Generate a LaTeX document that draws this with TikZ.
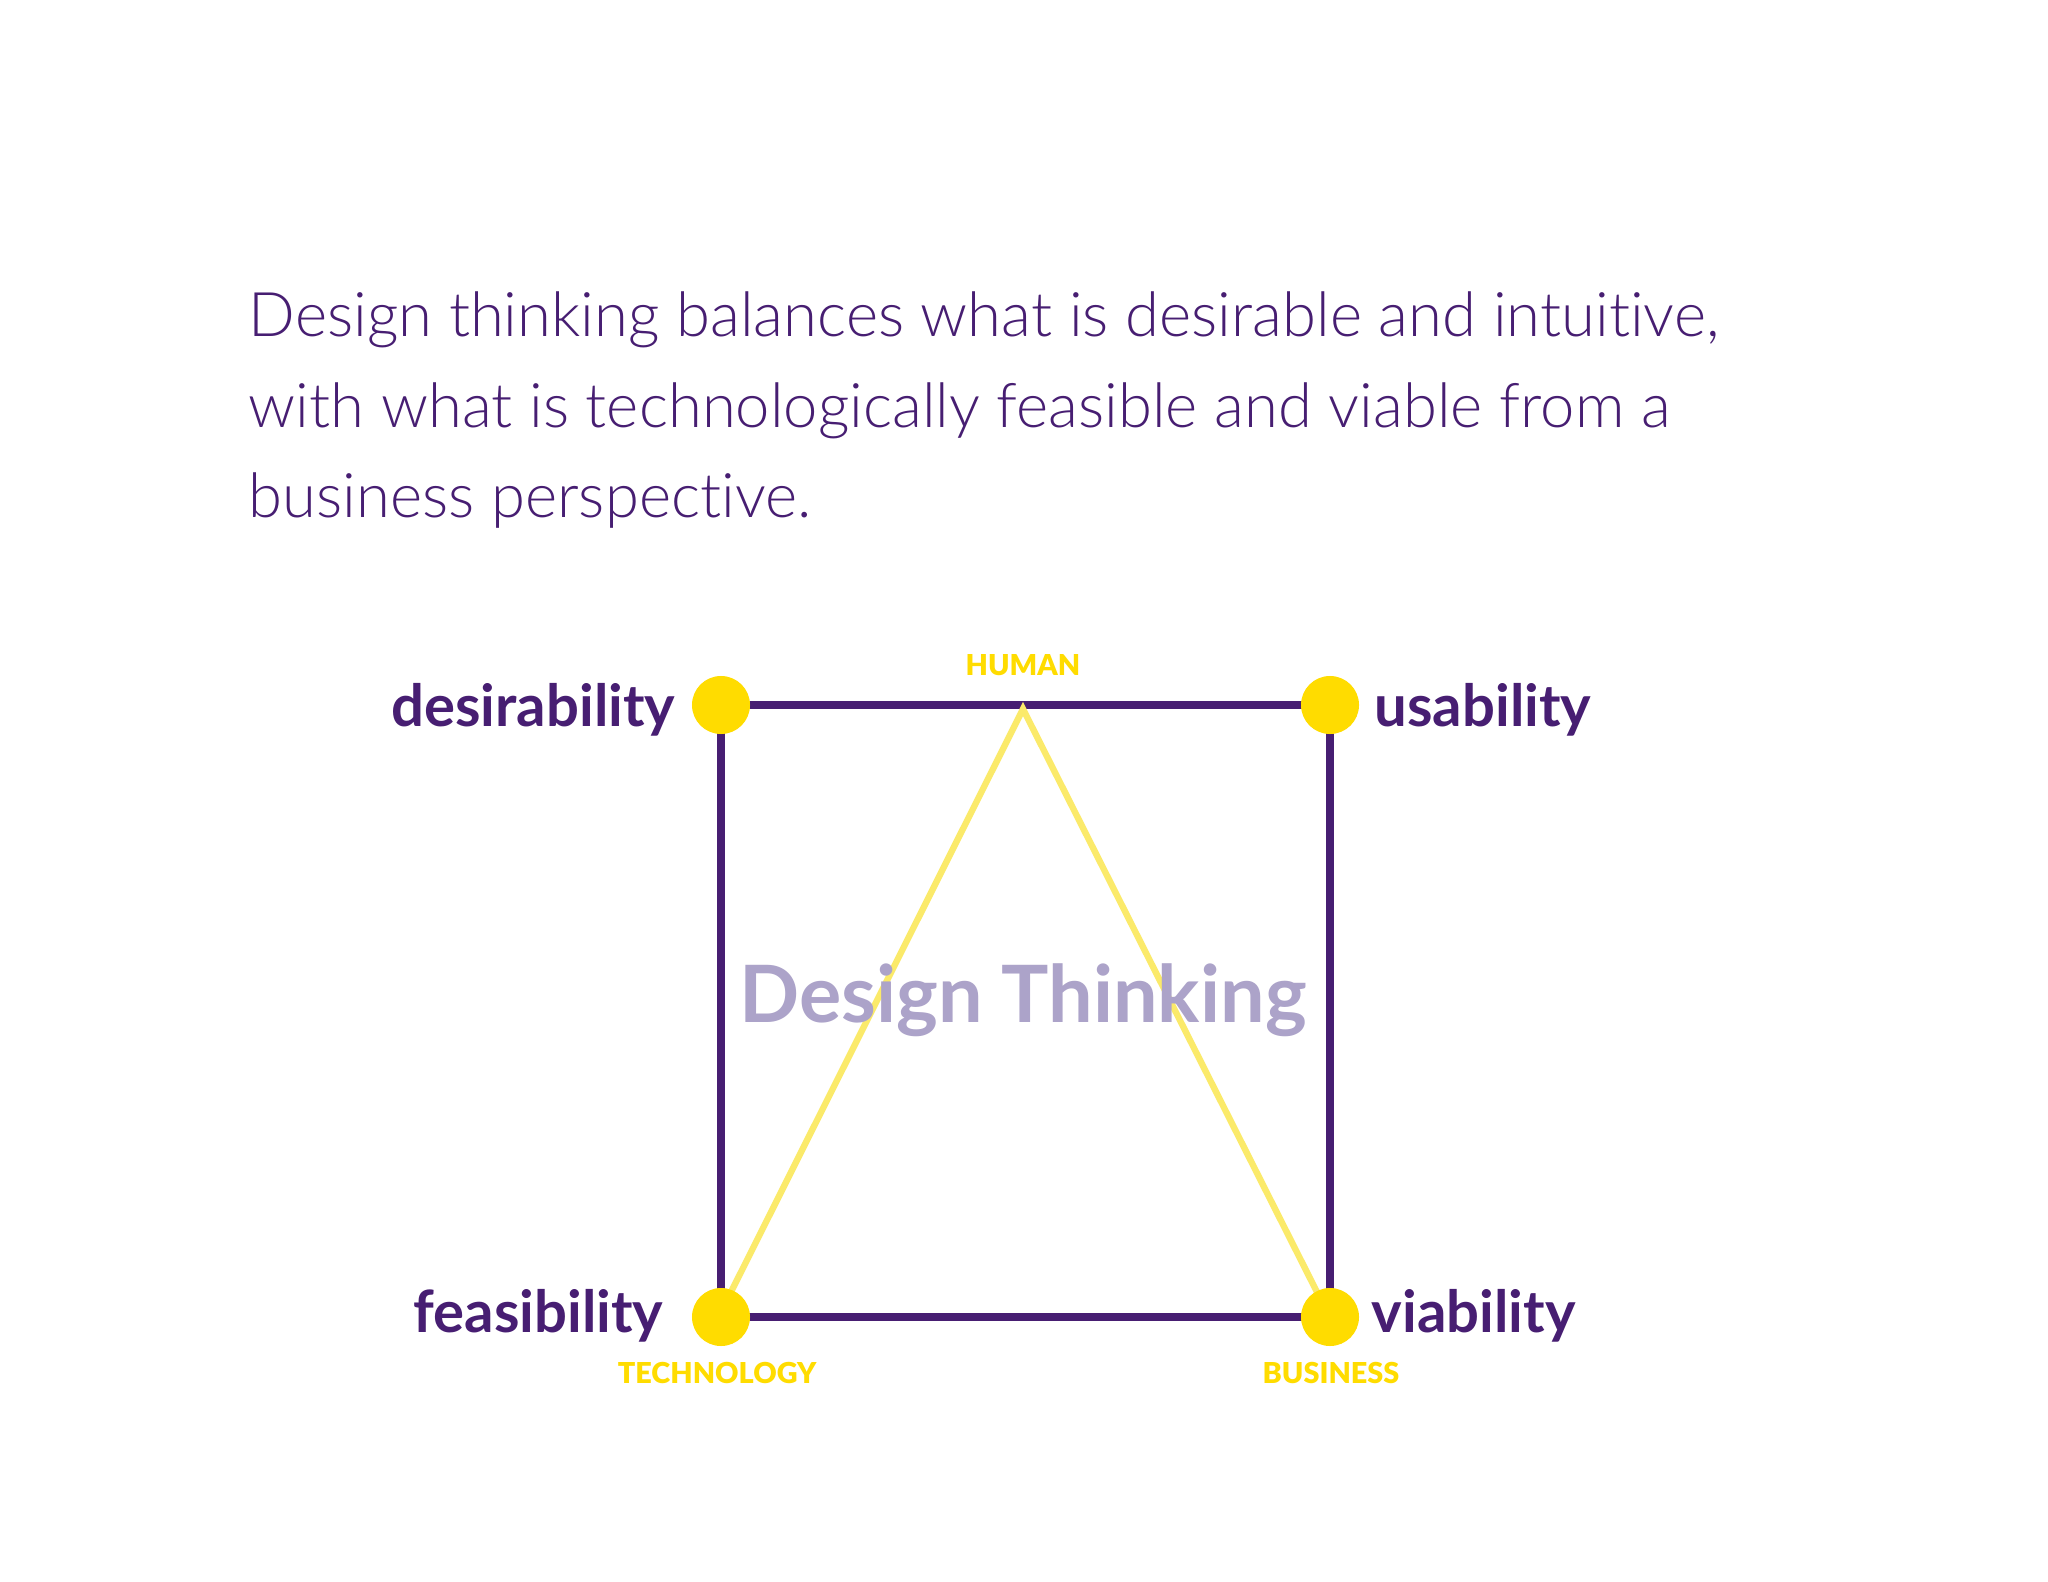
\documentclass[tikz,border=0pt]{standalone}
\usepackage{fontspec}
\setmainfont{Lato}
\newfontfamily\lightfont{Lato Light}[Ligatures=NoCommon]
\newfontfamily\blackfont{Lato Black}
\usepackage{tikz}

\definecolor{dtpurple}{HTML}{471E72}
\definecolor{dtyellow}{HTML}{FFDC00}
\definecolor{dtpale}{HTML}{FBEA6A}
\definecolor{dtlilac}{HTML}{ACA3C9}

\tikzset{
  intro/.style={anchor=base west,inner sep=0pt,text=dtpurple,font=\lightfont\fontsize{17.5}{21}\selectfont},
  corner/.style={circle,fill=dtyellow,minimum size=16.5pt,inner sep=0pt},
  quality/.style={inner sep=0pt,text=dtpurple,font=\bfseries\fontsize{16.5}{19}\selectfont},
  aspect/.style={inner sep=0pt,text=dtyellow,font=\blackfont\fontsize{8.2}{10}\selectfont},
}

\begin{document}
\begin{tikzpicture}[x=0.01cm,y=-0.01cm]
  \fill[white] (0,0) rectangle (2048,1582);
  \useasboundingbox (0,0) rectangle (2048,1582);

  % text on top
  \node[intro] (intro1) at (248,337) {Design thinking balances what is desirable and intuitive,};
  \node[intro] (intro2) at (248,427) {with what is technologically feasible and viable from a};
  \node[intro] (intro3) at (248,517) {business perspective.};

  % corners of the square
  \coordinate (desir) at (721,705);
  \coordinate (usab) at (1330,705);
  \coordinate (feas) at (721,1317);
  \coordinate (viab) at (1330,1317);

  \draw[dtpurple,line width=2.1pt] (desir) -- (usab) -- (viab) -- (feas) -- cycle;

  % the triangle
  \coordinate (human) at (1023,709);
  \coordinate (tech) at (726,1302);
  \coordinate (busi) at (1322,1302);
  \draw[dtpale,line width=1.8pt,line join=miter] (tech) -- (human) -- (busi);

  \node[corner] (cdesir) at (desir) {};
  \node[corner] (cusab) at (usab) {};
  \node[corner] (cfeas) at (feas) {};
  \node[corner] (cviab) at (viab) {};

  \node[text=dtlilac,font=\bfseries\fontsize{22.5}{26}\selectfont] (dt) at (1023,1000) {Design Thinking};

  \node[quality,anchor=base east] (ldesir) at (676,726) {desirability};
  \node[quality,anchor=base west] (lusab) at (1374,726) {usability};
  \node[quality,anchor=base east] (lfeas) at (664,1332) {feasibility};
  \node[quality,anchor=base west] (lviab) at (1371,1332) {viability};

  \node[aspect] (lhuman) at (1023,665) {HUMAN};
  \node[aspect] (ltech) at (717,1373) {TECHNOLOGY};
  \node[aspect] (lbusi) at (1331,1373) {BUSINESS};
\end{tikzpicture}
\end{document}
